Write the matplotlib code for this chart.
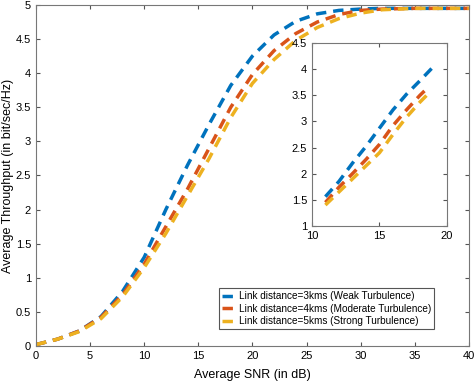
import matplotlib
matplotlib.use('Agg')
import matplotlib.pyplot as plt

plt.rcParams['font.family'] = ['Liberation Sans', 'DejaVu Sans']

# main curves (SNR in dB -> throughput)
snr = [0, 2, 4, 6, 8, 10, 12, 14, 16, 18, 20, 22, 24, 26, 28, 30, 32, 35, 40]
weak = [0.02, 0.1, 0.22, 0.43, 0.8, 1.3, 2.0, 2.65, 3.25, 3.82, 4.25, 4.56, 4.76, 4.87, 4.92, 4.94, 4.95, 4.95, 4.95]
moderate = [0.02, 0.1, 0.22, 0.42, 0.75, 1.2, 1.75, 2.3, 2.9, 3.5, 3.98, 4.33, 4.58, 4.75, 4.86, 4.92, 4.94, 4.95, 4.95]
strong = [0.02, 0.1, 0.21, 0.4, 0.72, 1.15, 1.65, 2.2, 2.75, 3.35, 3.85, 4.2, 4.48, 4.67, 4.8, 4.88, 4.93, 4.95, 4.95]

# inset curves
snr_in_w = [11, 12, 13, 14, 15, 16, 17, 18, 19]
weak_in = [1.56, 1.85, 2.2, 2.52, 2.87, 3.22, 3.52, 3.78, 4.05]
snr_in_m = [11, 12, 13, 14, 15, 16, 17, 18, 18.4]
moderate_in = [1.45, 1.74, 2.0, 2.27, 2.56, 2.92, 3.22, 3.5, 3.6]
snr_in_s = [11, 12, 13, 14, 15, 16, 17, 18, 18.5]
strong_in = [1.4, 1.65, 1.9, 2.15, 2.4, 2.75, 3.08, 3.37, 3.5]

labels = ['Link distance=3kms (Weak Turbulence)',
          'Link distance=4kms (Moderate Turbulence)',
          'Link distance=5kms (Strong Turbulence)']
colors = ['#0072BD', '#D95319', '#EDB120']

fig = plt.figure(figsize=(4.74, 3.81), dpi=100)
ax = fig.add_axes([0.076, 0.092, 0.913, 0.895])

for y, c, l in zip([weak, moderate, strong], colors, labels):
    ax.plot(snr, y, '--', color=c, lw=2.5, dashes=(3, 2), label=l)

ax.set_xlim(0, 40)
ax.set_ylim(0, 5)
ax.set_xticks(range(0, 41, 5))
ax.set_yticks([0, 0.5, 1, 1.5, 2, 2.5, 3, 3.5, 4, 4.5, 5])
ax.set_yticklabels(['0', '0.5', '1', '1.5', '2', '2.5', '3', '3.5', '4', '4.5', '5'])
ax.set_xlabel('Average SNR (in dB)', fontsize=9, labelpad=6)
ax.set_ylabel('Average Throughput (in bit/sec/Hz)', fontsize=9, labelpad=1)
ax.tick_params(direction='in', top=True, right=True, labelsize=8, length=3, color='#555555')
for s in ax.spines.values():
    s.set_color('#777777')

leg = ax.legend(loc='lower right', bbox_to_anchor=(0.932, 0.035), fontsize=7.2,
                fancybox=False, framealpha=1, handlelength=1.4, borderpad=0.3,
                labelspacing=0.25, handletextpad=0.3)
leg.get_frame().set_edgecolor('#555555')
leg.get_frame().set_linewidth(0.8)

axin = fig.add_axes([0.658, 0.407, 0.285, 0.48])
axin.plot(snr_in_w, weak_in, '--', color=colors[0], lw=2.5, dashes=(3, 2))
axin.plot(snr_in_m, moderate_in, '--', color=colors[1], lw=2.5, dashes=(3, 2))
axin.plot(snr_in_s, strong_in, '--', color=colors[2], lw=2.5, dashes=(3, 2))
axin.set_xlim(10, 20)
axin.set_ylim(1, 4.5)
axin.set_xticks([10, 15, 20])
axin.set_yticks([1, 1.5, 2, 2.5, 3, 3.5, 4, 4.5])
axin.set_yticklabels(['1', '1.5', '2', '2.5', '3', '3.5', '4', '4.5'])
axin.tick_params(direction='in', top=True, right=True, labelsize=8, length=3, color='#555555')
for s in axin.spines.values():
    s.set_color('#777777')

fig.savefig('out.png', dpi=100)
